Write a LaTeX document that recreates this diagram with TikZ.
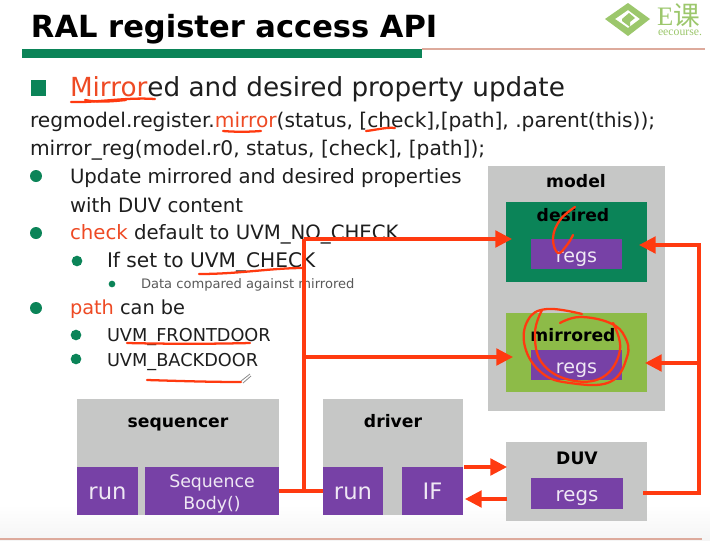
\documentclass[tikz,border=0pt]{standalone}
\usepackage{fontspec}
\setmainfont{DejaVu Sans}
\newfontfamily\cjkfont{Noto Sans CJK SC}
\newfontfamily\logofont{Liberation Serif}
\usetikzlibrary{arrows.meta,positioning}
\definecolor{ink}{HTML}{1E1E1E}
\definecolor{barGreen}{HTML}{0B8458}
\definecolor{handRed}{HTML}{FF3A10}
\definecolor{wordRed}{HTML}{EE4A24}
\definecolor{panel}{HTML}{C6C7C6}
\definecolor{purp}{HTML}{7741A6}
\definecolor{lime}{HTML}{8DBB48}
\definecolor{rule}{HTML}{DDAA9C}
\definecolor{logoGreen}{HTML}{9CC76C}
\tikzset{
  x=0.75pt,y=-0.75pt,
  txt/.style={anchor=base west,inner sep=0pt,outer sep=0pt,text=ink},
  big/.style={txt,font=\fontsize{19.7pt}{22pt}\selectfont},
  code/.style={txt,font=\fontsize{15.15pt}{18pt}\selectfont},
  itema/.style={txt,font=\fontsize{14.8pt}{17pt}\selectfont},
  itemb/.style={txt,font=\fontsize{13.3pt}{16pt}\selectfont},
  small/.style={txt,font=\fontsize{9.8pt}{11pt}\selectfont,text=black!65},
  dota/.style={circle,fill=barGreen,inner sep=0pt,minimum size=9pt},
  dotb/.style={circle,fill=barGreen,inner sep=0pt,minimum size=8pt},
  dotc/.style={circle,fill=barGreen,inner sep=0pt,minimum size=5pt},
  box/.style={inner sep=0pt,outer sep=0pt,anchor=north west},
  panelbox/.style={box,fill=panel},
  regbox/.style={box,fill=purp,text=white!88!purp,font=\fontsize{14.3pt}{16.5pt}\selectfont,align=center,text height=12pt,text depth=0pt},
  portbox/.style={regbox,font=\fontsize{17pt}{20pt}\selectfont},
  bodybox/.style={box,fill=purp,text=white!88!purp,font=\fontsize{13pt}{16pt}\selectfont,align=center},
  head/.style={inner sep=0pt,anchor=base,font=\bfseries\fontsize{12.9pt}{15pt}\selectfont,text=black},
  wire/.style={draw=handRed,line width=2.4pt},
  arrowwire/.style={wire,-{Triangle[length=12.5pt,width=12.5pt]}},
  hand/.style={draw=handRed,line width=1.7pt,line cap=round,line join=round},
}
\begin{document}
\begin{tikzpicture}
\useasboundingbox (0,0) rectangle (710,540);
\fill[white] (0,0) rectangle (710,540);
\shade[top color=white,bottom color=white!96!black] (0,505) rectangle (710,540);
% title
\node[txt,font=\bfseries\fontsize{22.9pt}{25pt}\selectfont,text=black] (title) at (31,37) {RAL register access API};
\draw[rule,line width=0.9pt] (422,49) -- (705,49);
\fill[barGreen] (22,48.5) rectangle (422,58);
\draw[rule,line width=0.9pt] (0,539) -- (702,539);
% logo
\begin{scope}[even odd rule]
\fill[logoGreen] (605,19) -- (628,3) -- (650,19) -- (628,36) -- cycle
  (615,19) -- (628,10) -- (640,19) -- (628,28) -- cycle;
\fill[logoGreen] (622,19) -- (629,13) -- (635,18) -- (630,22) -- (630,27) -- (622,21) -- cycle;
\end{scope}
\begin{scope}
\clip (650,0) rectangle (710,40);
\node[txt,font=\fontsize{20pt}{22pt}\selectfont\logofont,text=logoGreen] (logoE) at (657,25) {E\cjkfont 课};
\node[txt,font=\fontsize{8.8pt}{9pt}\selectfont\logofont,text=logoGreen] (logoT) at (658,35) {eecourse.};
\end{scope}
% text
\fill[barGreen] (31,80) rectangle (46,96);
\node[big] (t1) at (70,96) {\textcolor{wordRed}{Mirror}ed and desired property update};
\node[code] (t2) at (30,127) {regmodel.register.\textcolor{wordRed}{mirror}(status, [check],[path], .parent(this));};
\node[code] (t3) at (30,155) {mirror\_reg(model.r0, status, [check], [path]);};
\node[dota] (b1) at (36,176) {};
\node[itema] (t4) at (70,183) {Update mirrored and desired properties};
\node[itema] (t5) at (70,212) {with DUV content};
\node[dota] (b2) at (36,233) {};
\node[itema] (t6) at (70,239) {\textcolor{wordRed}{check} default to UVM\_NO\_CHECK};
\node[dotb] (b3) at (77,261) {};
\node[itema,font=\fontsize{15.1pt}{17pt}\selectfont] (t7) at (107,267) {If set to UVM\_CHECK};
\node[dotc] (b4) at (112,284) {};
\node[small] (t8) at (141,288) {Data compared against mirrored};
\node[dota] (b5) at (36,308) {};
\node[itema,font=\fontsize{14.5pt}{17pt}\selectfont] (t9) at (70,314) {\textcolor{wordRed}{path} can be};
\node[dotb] (b6) at (76,335) {};
\node[itemb] (t10) at (107,341) {UVM\_FRONTDOOR};
\node[dotb] (b7) at (76,359) {};
\node[itemb] (t11) at (107,366) {UVM\_BACKDOOR};
% model
\node[panelbox,minimum width=132.75pt,minimum height=183.75pt] (model) at (488,166) {};
\node[head] (modelL) at (576,187) {model};
\node[box,fill=barGreen,minimum width=105.75pt,minimum height=60pt] (desired) at (506,202) {};
\node[head] (desiredL) at (573,221) {desired};
\node[regbox,minimum width=68.25pt,minimum height=22.5pt] (regsA) at (531,239) {regs};
\node[box,fill=lime,minimum width=105.75pt,minimum height=59.25pt] (mirrored) at (506,313) {};
\node[head] (mirroredL) at (573,341) {mirrored};
\node[regbox,minimum width=68.25pt,minimum height=22.5pt] (regsB) at (531,350) {regs};
% sequencer
\node[panelbox,minimum width=151.5pt,minimum height=87pt] (seq) at (77,399) {};
\node[head] (seqL) at (178,427) {sequencer};
\node[portbox,minimum width=45.75pt,minimum height=36pt] (run1) at (77,467) {run};
\node[bodybox,minimum width=100.5pt,minimum height=36pt] (body) at (145,467) {\rule{0pt}{13.7pt}Sequence\\Body()};
% driver
\node[panelbox,minimum width=105pt,minimum height=87pt] (drv) at (323,399) {};
\node[head] (drvL) at (393,427) {driver};
\node[portbox,minimum width=45pt,minimum height=36pt] (run2) at (323,467) {run};
\node[portbox,minimum width=45.75pt,minimum height=36pt] (ifb) at (402,467) {IF};
% DUV
\node[panelbox,minimum width=105.75pt,minimum height=59.25pt] (duv) at (506,442) {};
\node[head] (duvL) at (577,464) {DUV};
\node[regbox,minimum width=69pt,minimum height=23.25pt,font=\fontsize{14.8pt}{17pt}\selectfont] (regsC) at (531,478) {regs};
% connector anchors
\coordinate (busTop) at (304,239);
\coordinate (busMid) at (304,357);
\coordinate (busLow) at (304,491);
\coordinate (tipD) at (512,239);
\coordinate (tipM) at (513,357);
\coordinate (railTop) at (699,245);
\coordinate (railMid) at (699,363);
\coordinate (railLow) at (699,493);
\coordinate (tipDr) at (639,245);
\coordinate (tipMr) at (645,363);
\coordinate (duvOut) at (643,493);
\coordinate (ifOutA) at (464,467);
\coordinate (duvInA) at (507,467);
\coordinate (duvOutB) at (507,499);
\coordinate (ifInB) at (465,499);
% connectors
\draw[wire] (body.east) -- (run2.west);
\draw[wire] (busLow) -- (busTop);
\draw[arrowwire] (busTop) -- (tipD);
\draw[arrowwire] (busMid) -- (tipM);
\draw[wire,line cap=rect] (railTop) -- (railLow);
\draw[wire] (duvOut) -- (railLow);
\draw[arrowwire] (railTop) -- (tipDr);
\draw[arrowwire] (railMid) -- (tipMr);
\draw[arrowwire] (ifOutA) -- (duvInA);
\draw[arrowwire] (duvOutB) -- (ifInB);
% handwriting
\draw[hand] (71,102) .. controls (95,103) and (125,97) .. (155,99);
\draw[hand] (85,100) .. controls (100,103) and (115,101) .. (126,100);
\draw[hand] (223,131) .. controls (235,132) and (248,132) .. (261,131);
\draw[hand] (366,131) .. controls (376,130) and (386,127) .. (395,128);
\draw[hand] (199,274) .. controls (240,274) and (270,268) .. (304,268);
\draw[hand] (127,343) .. controls (170,344) and (210,344) .. (250,343);
\draw[hand] (147,380) .. controls (180,381) and (210,382) .. (241,382);
\draw[black!45,line width=0.6pt] (241,381) -- (250,374) (243,383) -- (251,376);
\draw[hand] plot[smooth,tension=0.7] coordinates {(575,207) (560,220) (553,238) (558,253) (567,245) (573,235)};
\draw[hand] plot[smooth,tension=0.7] coordinates {(582,314) (547,309) (528,320) (525,347) (542,373) (570,383) (610,382) (627,357) (625,337) (610,323) (580,317) (560,323)};
\draw[hand] plot[smooth,tension=0.7] coordinates {(542,310) (535,333) (542,363) (570,380) (603,377) (620,350) (613,323)};
\end{tikzpicture}
\end{document}
